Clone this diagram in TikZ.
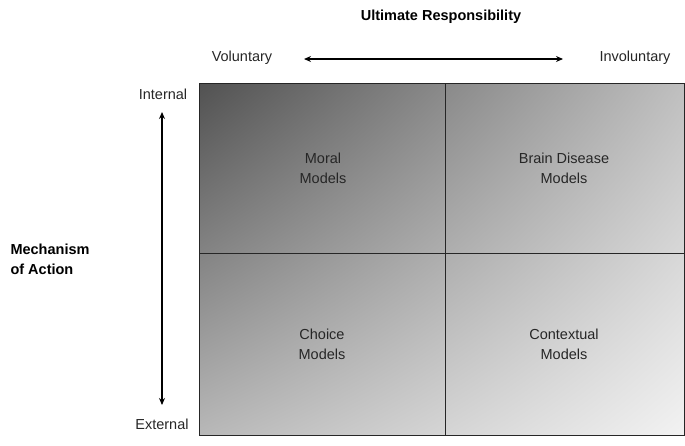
\documentclass[tikz,border=0pt]{standalone}
\usepackage{fontspec}
\setmainfont{Liberation Sans}
\usetikzlibrary{shadings,arrows.meta}
\begin{document}
\begin{tikzpicture}[x=1pt,y=-1pt,
 lbl/.style={font=\fontsize{14.5}{17}\selectfont,text=black!85},
 cell/.style={font=\fontsize{14.5}{17}\selectfont,align=center,text=black!85},
 arr/.style={{Stealth[length=7pt,width=6pt]}-{Stealth[length=7pt,width=6pt]},line width=1.3pt}]
\useasboundingbox (0,0) rectangle (685,445);
\shade[upper left=black!68,upper right=black!25,lower left=black!28,lower right=black!5] (199,83) rectangle (684,435);
\draw[black!85] (199,83) rectangle (684,435);
\draw[black!85] (445,83) -- (445,435) (199,253) -- (684,253);
\node[font=\fontsize{14.5}{17}\selectfont\bfseries] (t) at (441,17) {Ultimate Responsibility};
\node[lbl] (v) at (242,58) {Voluntary};
\node[lbl] (i) at (635,58) {Involuntary};
\coordinate (h1) at (304,59); \coordinate (h2) at (563,59);
\draw[arr] (h1) -- (h2);
\node[lbl] (in) at (163,94) {Internal};
\node[lbl] (ex) at (162,424) {External};
\coordinate (v1) at (162,112); \coordinate (v2) at (162,405);
\draw[arr] (v1) -- (v2);
\node[font=\fontsize{14.5}{17}\selectfont\bfseries,align=left,anchor=west] (m) at (7,259) {Mechanism\\[3pt]of Action};
\node[cell] (a) at (323,168) {Moral\\[3pt]Models};
\node[cell] (b) at (564,168) {Brain Disease\\[3pt]Models};
\node[cell] (c) at (322,344) {Choice\\[3pt]Models};
\node[cell] (d) at (564,344) {Contextual\\[3pt]Models};
\end{tikzpicture}
\end{document}
